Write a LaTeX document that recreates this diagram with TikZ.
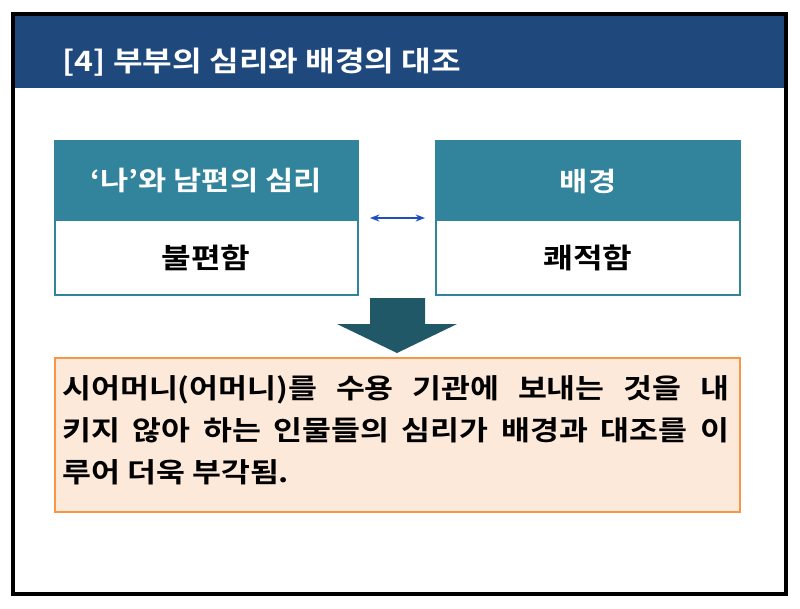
\documentclass[tikz,border=0pt]{standalone}
\usepackage{fontspec}
\setmainfont{Noto Sans CJK KR}[BoldFont={Noto Sans CJK KR Bold}]
\newfontfamily\widefont{Noto Sans CJK KR Bold}[FakeStretch=1.15]
\usepackage{tikz}
\usetikzlibrary{arrows.meta}
\definecolor{titleblue}{HTML}{1F497D}
\definecolor{headteal}{HTML}{31849B}
\definecolor{arrowteal}{HTML}{215868}
\definecolor{noteorange}{HTML}{F79646}
\definecolor{notefill}{HTML}{FDE9D9}
\tikzset{
  headbox/.style={fill=headteal,draw=headteal,line width=1pt},
  bodybox/.style={fill=white,draw=headteal,line width=1.2pt},
  headtext/.style={text=white,font=\widefont\fontsize{20}{24}\selectfont},
  bodytext/.style={text=black,font=\widefont\fontsize{21}{24}\selectfont}
}
\newcommand{\fullline}[1]{\makebox[500pt][s]{#1}}
\begin{document}
\begin{tikzpicture}[x=0.75pt,y=-0.75pt]
\useasboundingbox (0,0) rectangle (800,608);
% frame and title
\draw[line width=3pt,fill=white] (13,14) rectangle (786,594);
\fill[titleblue] (15,16) rectangle (784,88);
\node[anchor=west,text=white,font=\widefont\fontsize{21}{24}\selectfont] (title) at (58,62) {[4] 부부의 심리와 배경의 대조};
% left box
\draw[headbox] (55,141) rectangle (358,220);
\draw[bodybox] (55,220) rectangle (358,295);
\node[headtext] (lefthead) at (206,181) {‘나’와 남편의 심리};
\node[bodytext] (leftbody) at (206,258) {불편함};
% right box
\draw[headbox] (436,141) rectangle (740,220);
\draw[bodybox] (436,220) rectangle (740,295);
\node[headtext] (righthead) at (588,181) {배경};
\node[bodytext] (rightbody) at (588,258) {쾌적함};
% arrows
\coordinate (la) at (370,218);
\coordinate (ra) at (425,218);
\draw[{Stealth[length=7pt]}-{Stealth[length=7pt]},draw=headteal!60!blue,line width=1.2pt] (la) -- (ra);
\fill[arrowteal] (370,298) -- (425,298) -- (425,324) -- (457,324) -- (397,353) -- (337,324) -- (370,324) -- cycle;
% note
\draw[draw=noteorange,fill=notefill,line width=1.2pt] (55,358) rectangle (740,512);
\node[anchor=north west,inner sep=0pt,align=left,font=\widefont\fontsize{20.5}{31.5}\selectfont] (note) at (62,375)
  {\fullline{시어머니(어머니)를 수용 기관에 보내는 것을 내}\\
   \fullline{키지 않아 하는 인물들의 심리가 배경과 대조를 이}\\
   루어 더욱 부각됨.};
\end{tikzpicture}
\end{document}
